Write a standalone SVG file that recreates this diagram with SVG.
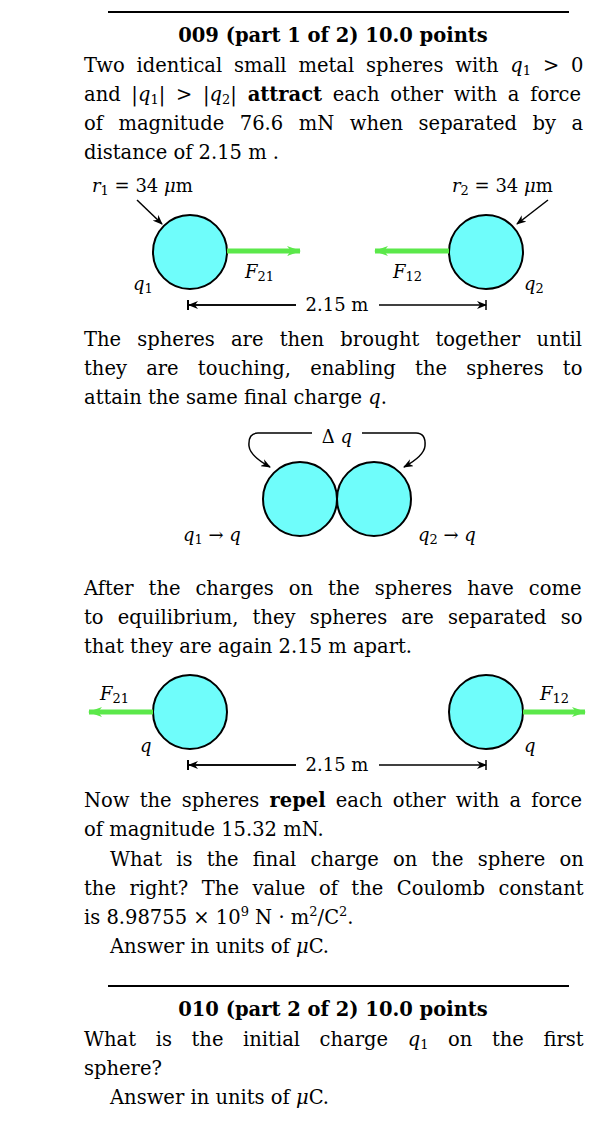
<svg xmlns="http://www.w3.org/2000/svg" width="614" height="1122" viewBox="0 0 614 1122">
<defs>
<marker id="ah" markerWidth="10" markerHeight="8" refX="9" refY="4" orient="auto" markerUnits="userSpaceOnUse"><path d="M0,0 L10,4 L0,8 L3,4 Z" fill="#000"/></marker>
<marker id="bar" markerWidth="2" markerHeight="10" refX="1" refY="5" orient="auto" markerUnits="userSpaceOnUse"><rect x="0" y="0" width="2" height="10" fill="#000"/></marker>
<marker id="gh" markerWidth="14" markerHeight="10" refX="13" refY="5" orient="auto" markerUnits="userSpaceOnUse"><path d="M0,0 L14,5 L0,10 L4,5 Z" fill="#5be84a"/></marker>
<style>
text{font-family:"DejaVu Serif","Liberation Serif",serif;font-size:19.5px;fill:#000}
.f{font-size:18px}
.b{font-weight:bold}
.i{font-style:italic}
.s{font-size:13px}
.sp{fill:#6ffdfb;stroke:#000;stroke-width:2}
.g{stroke:#5be84a;stroke-width:5;fill:none;marker-end:url(#gh)}
.p{stroke:#000;stroke-width:1.5;fill:none;marker-end:url(#ah)}
.d{stroke:#000;stroke-width:1.5;fill:none;marker-end:url(#ah)}
</style>
</defs>
<line x1="108" y1="12" x2="569" y2="12" stroke="#000" stroke-width="2"/>
<text x="333" y="42" text-anchor="middle" class="b">009 (part 1 of 2) 10.0 points</text>
<text x="84" y="72" word-spacing="5.6">Two identical small metal spheres with <tspan class="i">q</tspan><tspan class="s" dy="3">1</tspan><tspan dy="-3"> &gt; 0</tspan></text>
<text x="84" y="101" word-spacing="4.5">and |<tspan class="i">q</tspan><tspan class="s" dy="3">1</tspan><tspan dy="-3">| &gt; |</tspan><tspan class="i">q</tspan><tspan class="s" dy="3">2</tspan><tspan dy="-3">| </tspan><tspan class="b">attract</tspan> each other with a force</text>
<text x="84" y="130" word-spacing="9.3">of magnitude 76.6 mN when separated by a</text>
<text x="84" y="159">distance of 2.15 m .</text>

<g id="fig1">
<text class="f" x="92" y="192"><tspan class="i">r</tspan><tspan class="s" dy="3">1</tspan><tspan dy="-3"> = 34 </tspan><tspan class="i">μ</tspan>m</text>
<text class="f" x="452" y="192"><tspan class="i">r</tspan><tspan class="s" dy="3">2</tspan><tspan dy="-3"> = 34 </tspan><tspan class="i">μ</tspan>m</text>
<path class="p" d="M137,200 L162,224"/>
<path class="p" d="M548,200 L517,224"/>
<circle class="sp" cx="190" cy="252" r="37"/>
<circle class="sp" cx="486" cy="252" r="37"/>
<path class="g" d="M227,251 L300,251"/>
<path class="g" d="M449,251 L375,251"/>
<text class="f" x="245" y="278"><tspan class="i">F</tspan><tspan class="s" dy="3">21</tspan></text>
<text class="f" x="393" y="278"><tspan class="i">F</tspan><tspan class="s" dy="3">12</tspan></text>
<text class="f" x="133" y="290"><tspan class="i">q</tspan><tspan class="s" dy="3">1</tspan></text>
<text class="f" x="524" y="290"><tspan class="i">q</tspan><tspan class="s" dy="3">2</tspan></text>
<line x1="188" y1="305" x2="296" y2="305" stroke="#000" stroke-width="1.5" marker-start="url(#bar)"/>
<path class="d" d="M296,305 L189,305"/>
<path class="d" d="M379,305 L486,305"/>
<line x1="486" y1="300" x2="486" y2="310" stroke="#000" stroke-width="1.5"/>
<text class="f" x="337" y="311" text-anchor="middle">2.15 m</text>
</g>

<text x="84" y="346" word-spacing="10">The spheres are then brought together until</text>
<text x="84" y="375" word-spacing="13">they are touching, enabling the spheres to</text>
<text x="84" y="404">attain the same final charge <tspan class="i">q</tspan>.</text>

<g id="fig2">
<circle class="sp" cx="300" cy="499" r="37"/>
<circle class="sp" cx="374" cy="499" r="37"/>
<text class="f" x="337" y="443" text-anchor="middle">Δ <tspan class="i">q</tspan></text>
<path class="p" d="M312,433 L258,433 Q248,433 249,446 Q250,456 270,467"/>
<path class="p" d="M362,433 L416,433 Q426,433 425,446 Q424,456 404,467"/>
<text class="f" x="183" y="541"><tspan class="i">q</tspan><tspan class="s" dy="3">1</tspan><tspan dy="-3"> → </tspan><tspan class="i">q</tspan></text>
<text class="f" x="418" y="541"><tspan class="i">q</tspan><tspan class="s" dy="3">2</tspan><tspan dy="-3"> → </tspan><tspan class="i">q</tspan></text>
</g>

<text x="84" y="595" word-spacing="8.7">After the charges on the spheres have come</text>
<text x="84" y="624" word-spacing="8">to equilibrium, they spheres are separated so</text>
<text x="84" y="653">that they are again 2.15 m apart.</text>

<g id="fig3">
<circle class="sp" cx="190" cy="712" r="37"/>
<circle class="sp" cx="486" cy="712" r="37"/>
<path class="g" d="M153,712 L89,712"/>
<path class="g" d="M523,712 L585,712"/>
<text class="f" x="100" y="700"><tspan class="i">F</tspan><tspan class="s" dy="3">21</tspan></text>
<text class="f" x="540" y="700"><tspan class="i">F</tspan><tspan class="s" dy="3">12</tspan></text>
<text class="f i" x="140" y="752">q</text>
<text class="f i" x="524" y="752">q</text>
<line x1="188" y1="765" x2="296" y2="765" stroke="#000" stroke-width="1.5" marker-start="url(#bar)"/>
<path class="d" d="M296,765 L189,765"/>
<path class="d" d="M379,765 L486,765"/>
<line x1="486" y1="760" x2="486" y2="770" stroke="#000" stroke-width="1.5"/>
<text class="f" x="337" y="771" text-anchor="middle">2.15 m</text>
</g>

<text x="84" y="807" word-spacing="4">Now the spheres <tspan class="b">repel</tspan> each other with a force</text>
<text x="84" y="836">of magnitude 15.32 mN.</text>
<text x="110" y="866" word-spacing="8">What is the final charge on the sphere on</text>
<text x="84" y="895" word-spacing="7.3">the right? The value of the Coulomb constant</text>
<text x="84" y="924">is 8.98755 × 10<tspan class="s" dy="-8">9</tspan><tspan dy="8"> N · m</tspan><tspan class="s" dy="-8">2</tspan><tspan dy="8">/C</tspan><tspan class="s" dy="-8">2</tspan><tspan dy="8">.</tspan></text>
<text x="110" y="953">Answer in units of  <tspan class="i">μ</tspan>C.</text>

<line x1="108" y1="986" x2="569" y2="986" stroke="#000" stroke-width="2"/>
<text x="333" y="1016" text-anchor="middle" class="b">010 (part 2 of 2) 10.0 points</text>
<text x="84" y="1046" word-spacing="13.4">What is the initial charge <tspan class="i">q</tspan><tspan class="s" dy="3">1</tspan><tspan dy="-3"> on the first</tspan></text>
<text x="84" y="1075">sphere?</text>
<text x="110" y="1104">Answer in units of  <tspan class="i">μ</tspan>C.</text>
</svg>
